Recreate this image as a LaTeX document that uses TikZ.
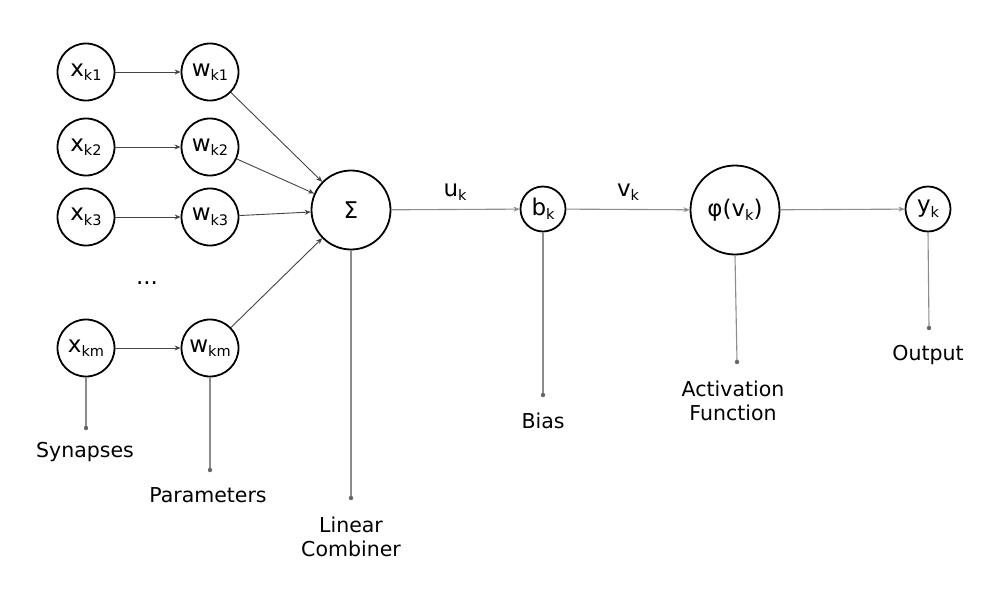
\documentclass[tikz,border=0pt]{standalone}
\usepackage{fontspec}
\setmainfont{DejaVu Sans}
\usetikzlibrary{arrows.meta}
\definecolor{connc}{HTML}{444444}
\definecolor{mainc}{HTML}{8E8E8E}
\definecolor{leadc}{HTML}{8C8C8C}
\definecolor{dotc}{HTML}{666666}
\newcommand{\mysub}[1]{\raisebox{-4.5pt}{\fontsize{14.5}{14.5}\selectfont #1}}
\tikzset{
  neuron/.style={circle, draw=black, line width=1.8pt, inner sep=0pt, minimum size=57pt,
    font=\fontsize{23}{23}\selectfont},
  small/.style={neuron, minimum size=45pt},
  big/.style={neuron, minimum size=79pt},
  huge/.style={neuron, minimum size=89pt},
  conn/.style={draw=connc, line width=0.9pt, -{Stealth[length=6pt,width=5pt,fill=black]}},
  mainconn/.style={conn, draw=mainc, line width=1.1pt},
  leader/.style={draw=leadc, line width=1.1pt},
  lbl/.style={font=\fontsize{20.5}{24}\selectfont, align=center, inner sep=0pt},
  elbl/.style={font=\fontsize{23}{23}\selectfont, inner sep=0pt},
}
\begin{document}
\begin{tikzpicture}[x=1pt,y=-1pt]
\useasboundingbox[fill=white] (0,0) rectangle (1000,600);
% inputs and weights
\node[neuron] (xk1) at (86,72) {x\mysub{k1}};
\node[neuron] (wk1) at (210,72) {w\mysub{k1}};
\node[neuron] (xk2) at (86,147) {x\mysub{k2}};
\node[neuron] (wk2) at (210,147) {w\mysub{k2}};
\node[neuron] (xk3) at (86,217) {x\mysub{k3}};
\node[neuron] (wk3) at (210,217) {w\mysub{k3}};
\node[elbl] (dots) at (147,283) {...};
\node[neuron] (xkm) at (86,348) {x\mysub{km}};
\node[neuron] (wkm) at (210,348) {w\mysub{km}};
% main chain
\node[big] (sum) at (351,210) {Σ};
\node[small] (bk) at (543,209) {b\mysub{k}};
\node[huge] (phi) at (735,210) {φ(v\mysub{k})};
\node[small] (yk) at (928,209) {y\mysub{k}};
% connectors
\draw[conn] (xk1) -- (wk1);
\draw[conn] (xk2) -- (wk2);
\draw[conn] (xk3) -- (wk3);
\draw[conn] (xkm) -- (wkm);
\draw[conn] (wk1) -- (sum);
\draw[conn] (wk2) -- (sum);
\draw[conn] (wk3) -- (sum);
\draw[conn] (wkm) -- (sum);
\draw[mainconn] (sum) -- (bk);
\draw[mainconn] (bk) -- (phi);
\draw[mainconn] (phi) -- (yk);
\node[elbl] (uk) at (455,192) {u\mysub{k}};
\node[elbl] (vk) at (628,192) {v\mysub{k}};
% leaders
\coordinate (synd) at (86,428);
\coordinate (pard) at (210,470);
\coordinate (lind) at (351,498);
\coordinate (biad) at (543,395);
\coordinate (actd) at (737,362);
\coordinate (outd) at (929,328);
\draw[leader] (xkm.south) -- (synd);
\draw[leader] (wkm.south) -- (pard);
\draw[leader] (sum.south) -- (lind);
\draw[leader] (bk.south) -- (biad);
\draw[leader] (phi.south) -- (actd);
\draw[leader] (yk.south) -- (outd);
\foreach \d in {synd,pard,lind,biad,actd,outd} \fill[dotc] (\d) circle (2.2pt);
\node[lbl] (synl) at (85,452) {Synapses};
\node[lbl] (parl) at (208,495) {Parameters};
\node[lbl] (linl) at (351,537) {Linear\\Combiner};
\node[lbl] (bial) at (543,421) {Bias};
\node[lbl] (actl) at (733,401) {Activation\\Function};
\node[lbl] (outl) at (928,355) {Output};
\end{tikzpicture}
\end{document}
